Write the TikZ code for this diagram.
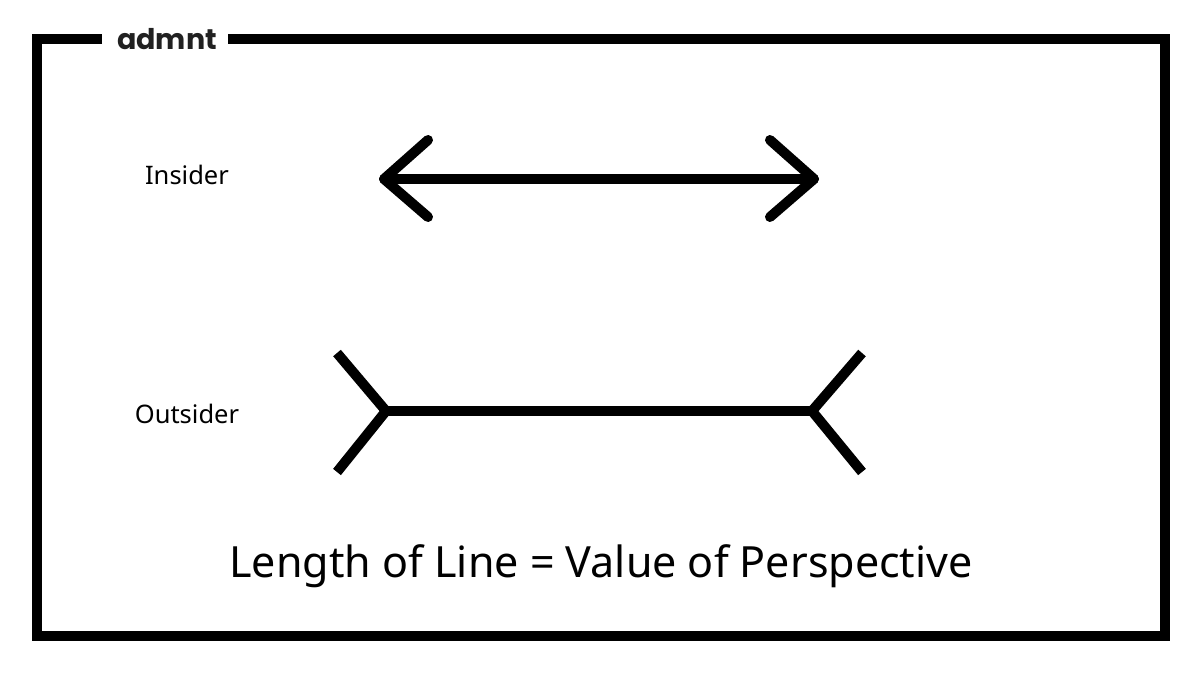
\documentclass[tikz,border=0pt]{standalone}
\usepackage{fontspec}
\setmainfont{Noto Sans}
\newfontfamily\logofont{Poppins}
\begin{document}
\begin{tikzpicture}[x=1pt,y=-1pt,
  frame/.style={line width=10pt, line cap=butt, line join=miter},
  arrowline/.style={line width=10pt, line cap=round, line join=round},
  finline/.style={line width=10pt, line cap=butt, line join=miter},
  label/.style={font=\fontsize{25.5}{29}\selectfont, inner sep=0pt, anchor=base},
  caption/.style={font=\fontsize{43}{48}\selectfont, inner sep=0pt, anchor=base}]
\useasboundingbox[fill=white] (0,0) rectangle (1200,675);
% frame
\coordinate (f1) at (102,39);
\coordinate (f2) at (36.5,39);
\coordinate (f3) at (36.5,636);
\coordinate (f4) at (1165,636);
\coordinate (f5) at (1165,39);
\coordinate (f6) at (228,39);
\draw[frame] (f1) -- (f2) -- (f3) -- (f4) -- (f5) -- (f6);
\node[inner sep=0pt, text=black!87, font=\logofont\bfseries\fontsize{28.5}{32}\selectfont, anchor=base] (logo) at (167,49) {admnt};
% insider arrow
\coordinate (a1) at (384,179);
\coordinate (a2) at (814,179);
\coordinate (a1u) at (428,140);
\coordinate (a1d) at (428,217);
\coordinate (a2u) at (770,140);
\coordinate (a2d) at (770,217);
\draw[arrowline] (a1) -- (a2);
\draw[arrowline] (a1u) -- (a1) -- (a1d);
\draw[arrowline] (a2u) -- (a2) -- (a2d);
\node[label] (insider) at (187,184) {Insider};
% outsider line
\coordinate (o1) at (386,411);
\coordinate (o2) at (812,411);
\coordinate (o1u) at (337,353);
\coordinate (o1d) at (337,472);
\coordinate (o2u) at (862,353);
\coordinate (o2d) at (862,472);
\draw[finline] (o1) -- (o2);
\draw[finline] (o1u) -- (o1) -- (o1d);
\draw[finline] (o2u) -- (o2) -- (o2d);
\node[label] (outsider) at (187,423) {Outsider};
% caption
\node[caption] (cap) at (601,577) {Length of Line = Value of Perspective};
\end{tikzpicture}
\end{document}
